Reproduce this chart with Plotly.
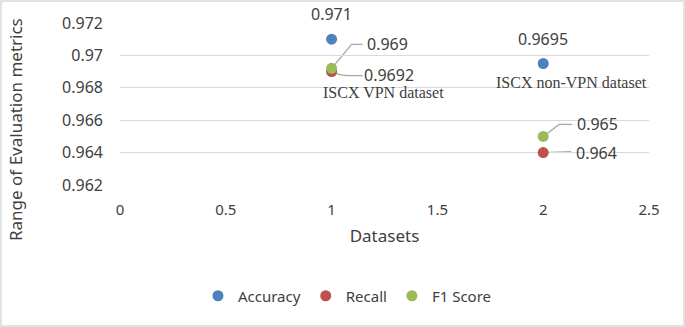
import plotly.graph_objects as go

datasets = [1, 2]
accuracy = [0.971, 0.9695]
recall = [0.969, 0.964]
f1_score = [0.9692, 0.965]
dataset_names = ["ISCX VPN dataset", "ISCX non-VPN dataset"]
y_tickvals = [0.962, 0.964, 0.966, 0.968, 0.970, 0.972]
y_ticktext = ["0.962", "0.964", "0.966", "0.968", "0.97", "0.972"]
x_tickvals = [0, 0.5, 1, 1.5, 2, 2.5]
x_ticktext = ["0", "0.5", "1", "1.5", "2", "2.5"]

series = [
    ("Accuracy", accuracy, "#4F81BD"),
    ("Recall", recall, "#C0504D"),
    ("F1 Score", f1_score, "#9BBB59"),
]

FONT = "Noto Sans"
TXT = "#404040"
fig = go.Figure()
for name, vals, col in series:
    fig.add_trace(go.Scatter(x=datasets, y=vals, mode="markers", name=name,
                             marker=dict(size=11, color=col)))

GRAY = "#A6A6A6"
# (x, y, text, dx, dy, leader path in px relative to point)
labels = [
    (datasets[0], accuracy[0], "0.971", 0, 25, None),
    (datasets[1], accuracy[1], "0.9695", 0, 25, None),
    (datasets[0], f1_score[0], "0.969", 56, 24, "M 0 0 L 20 24 L 31 24"),
    (datasets[0], recall[0], "0.9692", 57, -3, "M 0 0 C 6 -3 12 -4 18 -4 L 31 -4"),
    (datasets[1], f1_score[1], "0.965", 54, 12, "M 0 0 L 16 12 L 29 12"),
    (datasets[1], recall[1], "0.964", 53, 0, "M 0 0 L 28 1"),
]
for x, y, t, dx, dy, path in labels:
    fig.add_annotation(x=x, y=y, xref="x", yref="y", text=t, showarrow=False,
                       xshift=dx, yshift=dy, font=dict(family=FONT, size=16, color=TXT))
    if path:
        fig.add_shape(type="path", xref="x", yref="y", xsizemode="pixel", ysizemode="pixel",
                      xanchor=x, yanchor=y, path=path, line=dict(color=GRAY, width=1.3),
                      layer="below")

fig.add_annotation(x=datasets[0], y=recall[0], text=dataset_names[0], showarrow=False,
                   xshift=52, yshift=-21, font=dict(family="Liberation Serif", size=16, color=TXT))
fig.add_annotation(x=datasets[1], y=accuracy[1], text=dataset_names[1], showarrow=False,
                   xshift=28, yshift=-19, font=dict(family="Liberation Serif", size=16, color=TXT))

# y axis title (placed like the reference, slightly below the plot's centre)
fig.add_annotation(xref="paper", yref="paper", x=-105/529, y=(185 - 130) / 162,
                   text="Range of Evaluation metrics", textangle=-90, showarrow=False,
                   xanchor="center", yanchor="middle",
                   font=dict(family=FONT, size=17, color=TXT))

fig.update_layout(
    width=685, height=327,
    margin=dict(l=120, r=36, t=23, b=142),
    paper_bgcolor="white", plot_bgcolor="white",
    font=dict(family=FONT, size=14, color=TXT),
    xaxis=dict(range=[0, 2.5], tickvals=x_tickvals, ticktext=x_ticktext, showgrid=False,
               zeroline=False, showline=False, automargin=False,
               tickfont=dict(size=15, color=TXT), ticks="", ticklabelstandoff=14,
               title=dict(text="Datasets", font=dict(size=17, color=TXT), standoff=12)),
    yaxis=dict(range=[0.962, 0.972], tickvals=y_tickvals, ticktext=y_ticktext, showgrid=True,
               gridcolor="#D9D9D9", gridwidth=1.3, zeroline=False, showline=False,
               automargin=False, ticklabelstandoff=16,
               tickfont=dict(size=16, color=TXT), ticks=""),
    legend=dict(orientation="h", x=0.43, xanchor="center", y=-111/162, yanchor="middle",
                font=dict(size=15, color=TXT), itemwidth=30, tracegroupgap=0),
    showlegend=True,
)
fig.add_shape(type="rect", xref="paper", yref="paper", x0=-119/529, x1=1+35/529,
              y0=-141/162, y1=1+22/162, line=dict(color="#D9D9D9", width=1.5))
fig.write_html("out.html", config={"displayModeBar": False},
               post_script="document.body.style.margin='0';")
